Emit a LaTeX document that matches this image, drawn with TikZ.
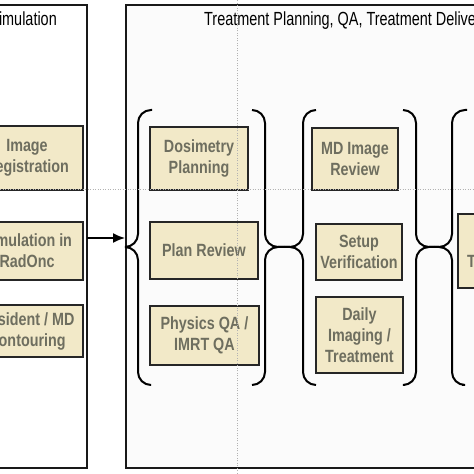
\documentclass[tikz,border=0pt]{standalone}
\usepackage{fontspec}
\setmainfont{Liberation Sans}
\newfontfamily\titlefont[FakeStretch=0.76]{Liberation Sans}
\newfontfamily\stepfont[FakeStretch=0.81]{Liberation Sans}
\usepackage{tikz}
\usetikzlibrary{arrows.meta}

\definecolor{stepfill}{RGB}{242,233,200}
\definecolor{steptext}{RGB}{110,110,95}
\definecolor{paneltint}{RGB}{251,251,251}

\tikzset{
    stepbox/.style={draw=black!85, fill=stepfill, line width=1.6pt, align=center,
        text=steptext, font=\stepfont\bfseries\fontsize{17.7}{21}\selectfont,
        inner sep=0pt},
    panel/.style={draw=black!90, line width=1.6pt},
    curly/.style={draw=black, line width=2pt, rounded corners=13pt},
    guide/.style={draw=black!30, line width=0.5pt, dash pattern=on 1pt off 1.5pt},
    flow/.style={draw=black, line width=1.6pt, -{Latex[length=12pt,width=10pt]}},
    paneltitle/.style={font=\titlefont\fontsize{19}{22}\selectfont, inner sep=0pt}
}

\begin{document}
\begin{tikzpicture}[x=1pt, y=1pt]
    \useasboundingbox (0,0) rectangle (474,474);
    \clip (0,0) rectangle (474,474);

    % panels
    \draw[panel, fill=white] (-50,6) rectangle (87,469);
    \draw[panel, fill=paneltint] (126,6) rectangle (540,469);
    \node[paneltitle, anchor=base east] (simTitle) at (57,448) {Simulation};
    \node[paneltitle, anchor=base west] (tpTitle) at (204,448) {Treatment Planning, QA, Treatment Delivery};

    % simulation steps
    \node[stepbox, minimum width=112pt, minimum height=64pt] (imgReg) at (27,316) {Image\\Registration};
    \node[stepbox, minimum width=112pt, minimum height=58pt] (simRad) at (27,223) {Simulation in\\RadOnc};
    \node[stepbox, minimum width=112pt, minimum height=52pt] (mdCont) at (27,143) {Resident / MD\\Contouring};

    % planning and QA
    \node[stepbox, minimum width=98pt, minimum height=63pt] (dosPlan) at (199,315.5) {Dosimetry\\Planning};
    \node[stepbox, minimum width=108pt, minimum height=57pt] (planRev) at (204,223.5) {Plan Review};
    \node[stepbox, minimum width=109pt, minimum height=59pt] (physQA) at (204.5,138.5) {Physics QA /\\IMRT QA};

    % delivery
    \node[stepbox, minimum width=86pt, minimum height=62pt] (mdImg) at (355,315) {MD Image\\Review};
    \node[stepbox, minimum width=86pt, minimum height=56pt] (setupVer) at (359,222) {Setup\\Verification};
    \node[stepbox, minimum width=87pt, minimum height=76pt] (dailyTx) at (359.5,139) {Daily\\Imaging /\\Treatment};
    \node[stepbox, minimum width=87pt, minimum height=74pt] (weeklyTx) at (501.5,223) {Weekly\\Treatment};

    % braces
    \draw[curly] (152,364) -- (138,364) -- (138,227) -- (125,227);
    \draw[curly] (125,227) -- (138,227) -- (138,89) -- (150,89);
    \draw[curly] (252,364) -- (265,364) -- (265,227) -- (284,227);
    \draw[curly] (284,227) -- (265,227) -- (265,89) -- (252,89);
    \draw[curly] (316,364) -- (303,364) -- (303,227) -- (284,227);
    \draw[curly] (284,227) -- (303,227) -- (303,89) -- (316,89);
    \draw[curly] (403,364) -- (416,364) -- (416,227) -- (434,227);
    \draw[curly] (434,227) -- (416,227) -- (416,89) -- (405,89);
    \draw[curly] (467,364) -- (452,364) -- (452,227) -- (434,227);
    \draw[curly] (434,227) -- (452,227) -- (452,89) -- (462,89);

    % hand-off
    \coordinate (simOut) at (87,236);
    \coordinate (planIn) at (125,236);
    \draw[flow] (simOut) -- (planIn);

    % page guides
    \draw[guide] (237,0) -- (237,474);
    \draw[guide] (0,285) -- (474,285);
\end{tikzpicture}
\end{document}
